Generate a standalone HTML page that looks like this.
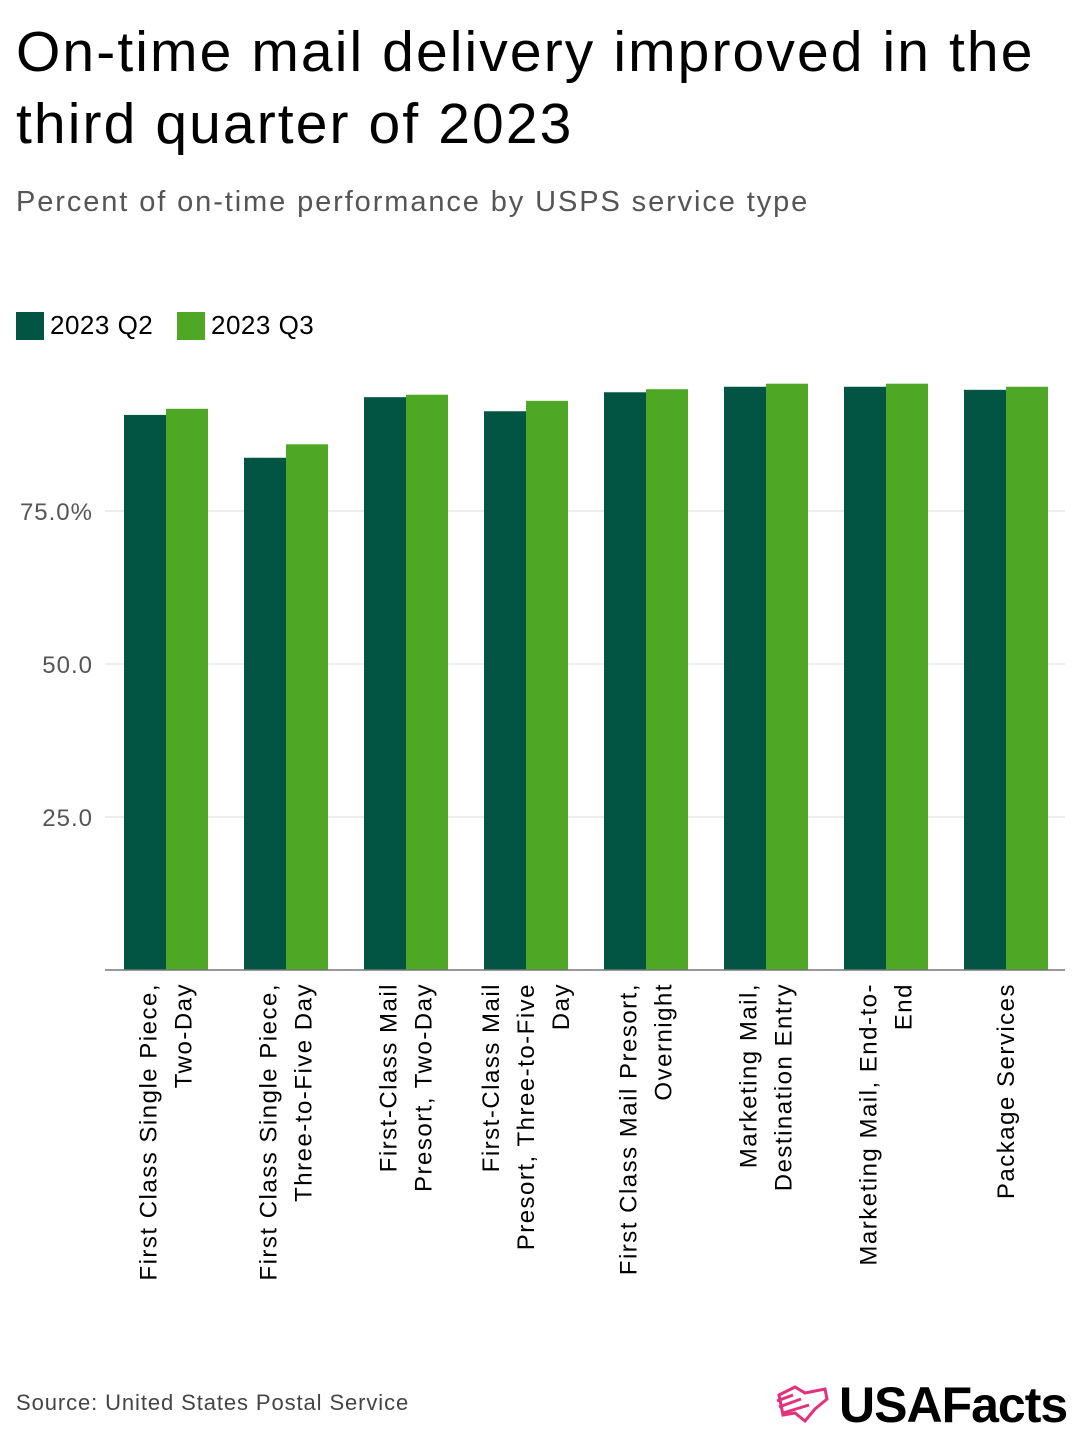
<!DOCTYPE html>
<html><head><meta charset="utf-8"><style>
body{margin:0;width:1080px;height:1438px;background:#fff;font-family:"Liberation Sans",sans-serif;overflow:hidden;position:relative}
h1{position:absolute;left:16px;top:16px;margin:0;font-size:57px;letter-spacing:2.1px;font-weight:500;line-height:72px;color:#000;width:1055px}
.sub{position:absolute;left:16px;top:186px;font-size:29px;letter-spacing:1.9px;color:#555}
.leg{position:absolute;top:310px;font-size:26px;letter-spacing:0.5px;color:#000;display:flex;align-items:center}
.sw{width:28px;height:28px;margin-right:6px;display:inline-block}
.src{position:absolute;left:16px;top:1390px;font-size:22px;letter-spacing:0.9px;color:#444}
.logo{position:absolute;left:775px;top:1376px;display:flex;align-items:center;font-size:50px;font-weight:bold;color:#000;letter-spacing:-1px}
</style></head><body>
<h1>On-time mail delivery improved in the third quarter of 2023</h1>
<div class="sub">Percent of on-time performance by USPS service type</div>
<div class="leg" style="left:16px"><span class="sw" style="background:#025443"></span>2023 Q2</div>
<div class="leg" style="left:177px"><span class="sw" style="background:#4ea826"></span>2023 Q3</div>
<svg id="chart" width="1080" height="1438" style="position:absolute;left:0;top:0"></svg>
<div class="src">Source: United States Postal Service</div>
<div class="logo">
<svg width="56" height="40" viewBox="0 0 56 40" style="margin-right:8px"><g fill="none" stroke="#e5307e" stroke-width="3"><path d="M4 10 L20 2 L30 8 L50 4 L52 14 L40 24 L30 36 L20 28 L8 30 Z"/><path d="M2 16 L18 10 M4 22 L26 14 M8 28 L34 20"/></g></svg>USAFacts</div>
<script>
const categories=[["First Class Single Piece,","Two-Day"],["First Class Single Piece,","Three-to-Five Day"],["First-Class Mail","Presort, Two-Day"],["First-Class Mail","Presort, Three-to-Five","Day"],["First Class Mail Presort,","Overnight"],["Marketing Mail,","Destination Entry"],["Marketing Mail, End-to-","End"],["Package Services"]];
const q2=[90.7,83.7,93.6,91.3,94.4,95.3,95.3,94.8];
const q3=[91.7,85.9,94.0,93.0,94.9,95.8,95.8,95.3];
const ticks=[25,50,75];
const tickLabels=["25.0","50.0","75.0%"];
const NS="http://www.w3.org/2000/svg";
const svg=document.getElementById('chart');
const y0=970,pxPer=6.12,left=106,band=120;
const y=v=>y0-v*pxPer;
const x=i=>left+i*band;
function mk(t,a){const e=document.createElementNS(NS,t);for(const k in a)e.setAttribute(k,a[k]);svg.appendChild(e);return e;}
ticks.forEach((t,i)=>{
const g=mk('line',{x1:105,x2:1065,y1:y(t),y2:y(t),stroke:'#ddd','stroke-width':1});


const l=mk('text',{x:93,y:y(t)+9,'text-anchor':'end','font-size':24,'letter-spacing':1,fill:'#555','font-family':'Liberation Sans'});
l.textContent=tickLabels[i];


});
categories.forEach((c,i)=>{
const b1=mk('rect',{x:x(i)+18,y:y(q2[i]),width:42,height:q2[i]*pxPer,fill:'#025443'});


const b2=mk('rect',{x:x(i)+60,y:y(q3[i]),width:42,height:q3[i]*pxPer,fill:'#4ea826'});


const cx=x(i)+60,n=c.length,lh=35;
c.forEach((line,j)=>{
const lx=cx+(j-(n-1)/2)*lh+8;
const t=mk('text',{x:lx,y:983,'text-anchor':'end','font-size':24,'letter-spacing':1.5,fill:'#000','font-family':'Liberation Sans',transform:`rotate(-90 ${lx} 983)`});
t.textContent=line;


});
});
const ax=mk('line',{x1:105,x2:1065,y1:y0,y2:y0,stroke:'#777','stroke-width':1.5});


</script>
</body></html>
